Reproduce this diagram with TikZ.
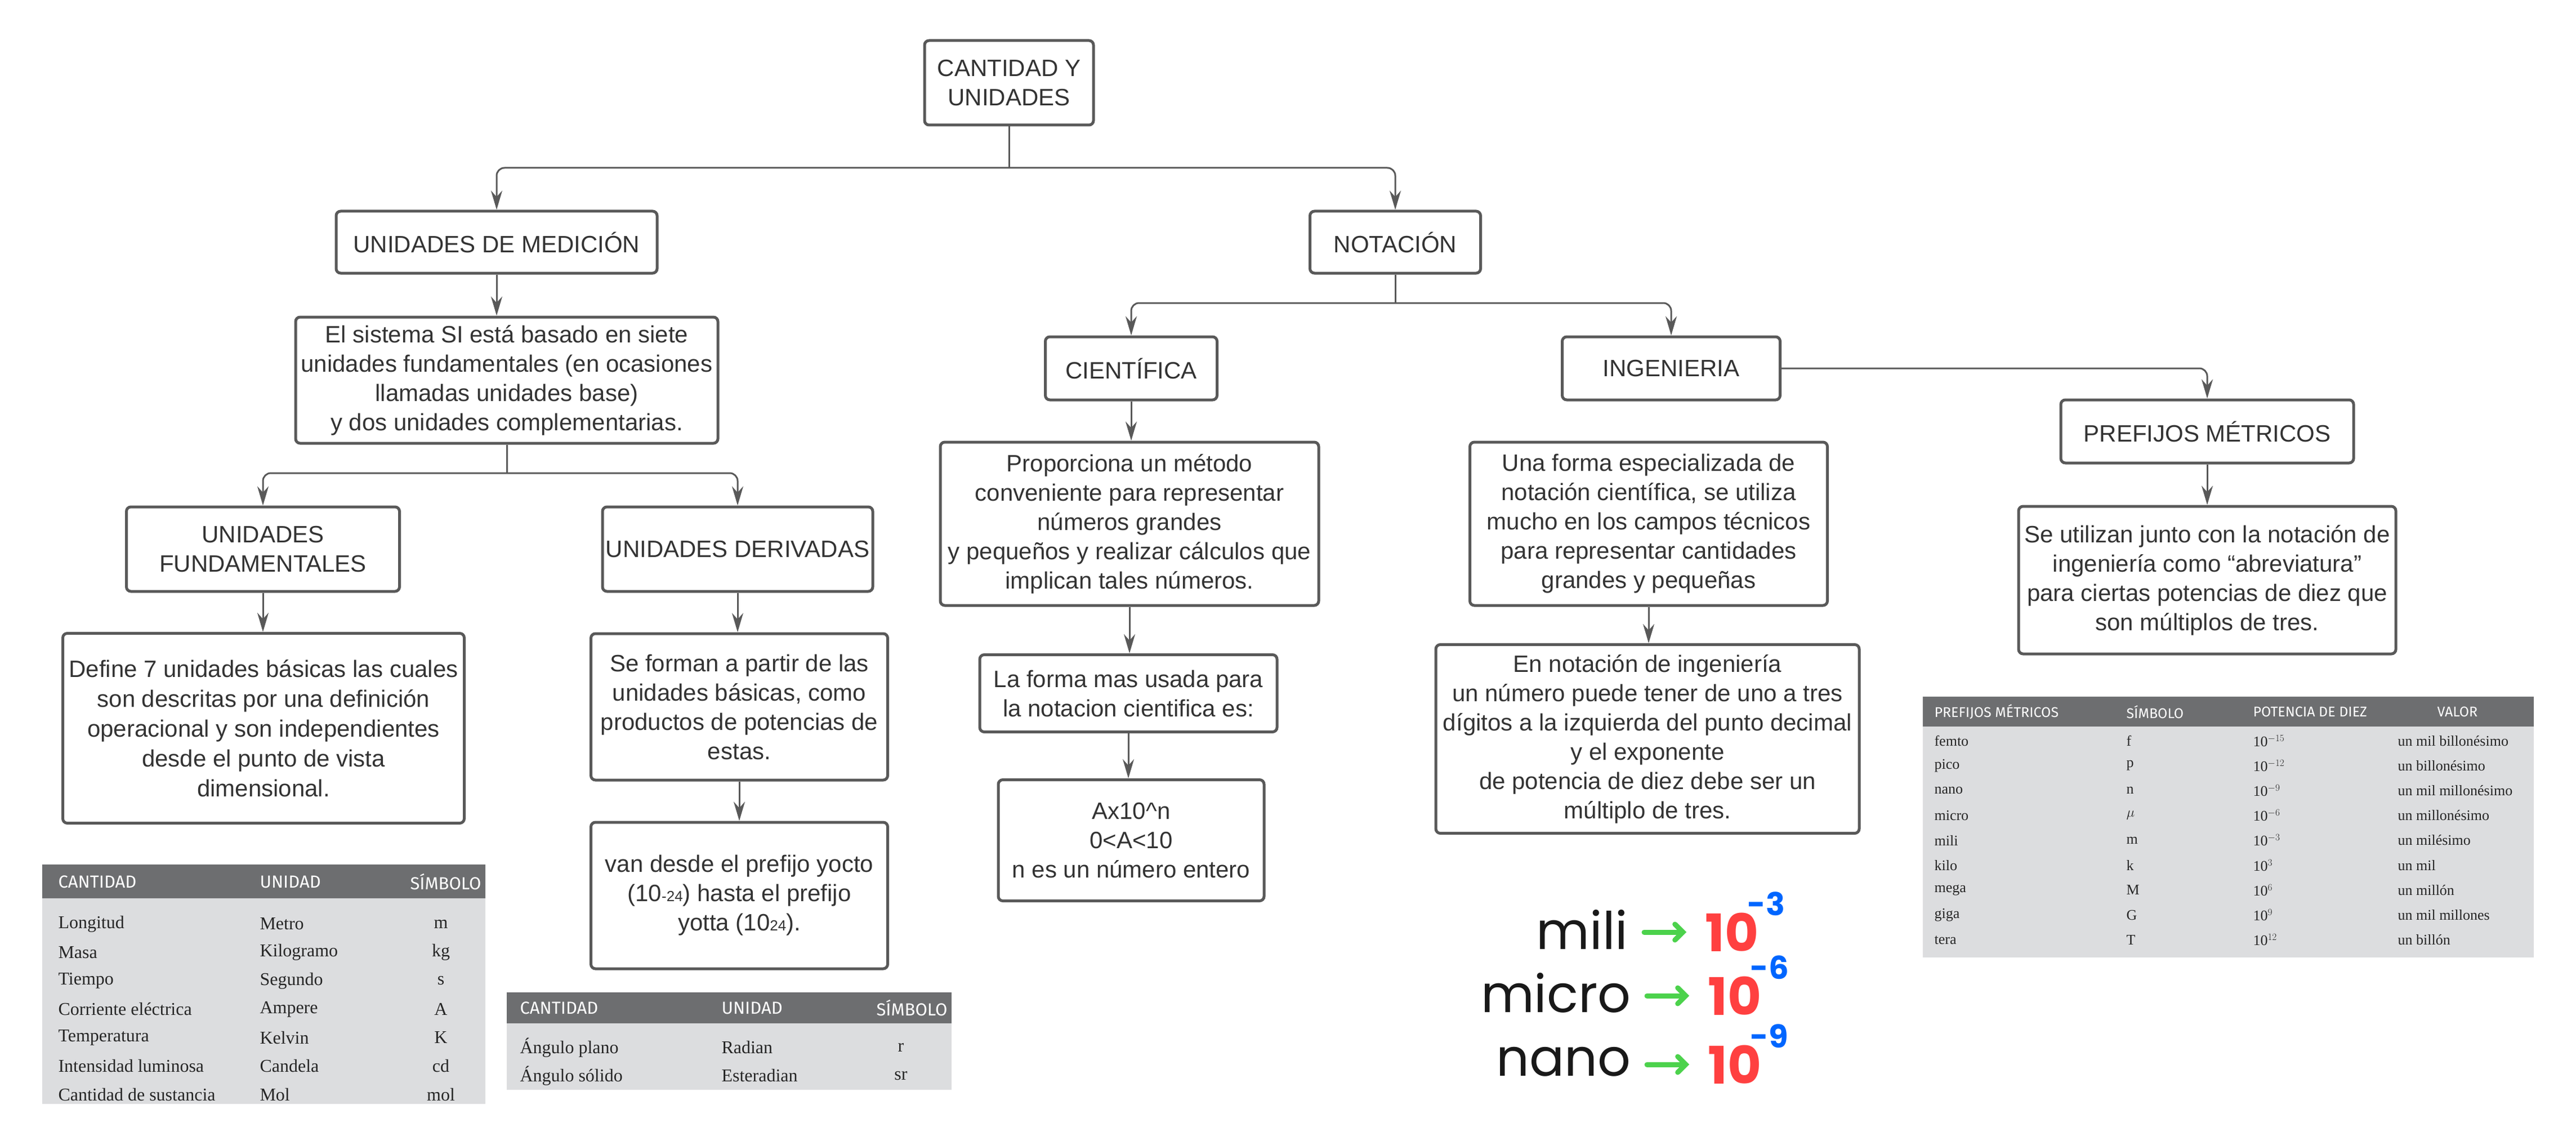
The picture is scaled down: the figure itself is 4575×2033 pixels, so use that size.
\documentclass[tikz,border=0pt]{standalone}
\usepackage{fontspec}
\setmainfont{Liberation Sans}
\newfontfamily\serifT{Liberation Serif}
\newfontfamily\headT{Fira Sans}
\newfontfamily\handT{Poppins}
\usetikzlibrary{arrows.meta}
\definecolor{bx}{HTML}{595959}
\definecolor{hd}{HTML}{6D6E70}
\definecolor{bd}{HTML}{DCDDDF}
\definecolor{tx}{HTML}{333333}
\tikzset{
 box/.style={draw=bx,line width=5pt,rounded corners=8pt,align=center,text=tx,font=\fontsize{42}{52}\selectfont,inner sep=0pt},
 conn/.style={draw=bx,line width=3pt,rounded corners=14pt,-{Stealth[length=34pt,width=20pt]}},
 line/.style={draw=bx,line width=3pt,rounded corners=14pt},
 th/.style={text=white,font=\headT\fontsize{31}{34}\selectfont,anchor=west},
 td/.style={text=black!85,font=\serifT\fontsize{32}{34}\selectfont,anchor=west},
 ph/.style={text=white,font=\headT\fontsize{25}{28}\selectfont,anchor=west},
 pd/.style={text=black!85,font=\serifT\fontsize{26}{30}\selectfont,anchor=west},
 hw/.style={font=\handT\fontsize{92}{100}\selectfont,text=black!90},
}
\begin{document}
\begin{tikzpicture}[x=1pt,y=-1pt]
\useasboundingbox[fill=white] (0,0) rectangle (4575,2033);
\node[box,minimum width=300pt,minimum height=150pt] (root) at (1792,147) {CANTIDAD Y\\UNIDADES};
\node[box,minimum width=570pt,minimum height=110pt] (um) at (882,430) {UNIDADES DE MEDICIÓN};
\node[box,minimum width=303pt,minimum height=110pt] (not) at (2478,430) {NOTACIÓN};
\node[box,minimum width=750pt,minimum height=224pt] (si) at (900,675) {El sistema SI está basado en siete\\unidades fundamentales (en ocasiones\\llamadas unidades base)\\y dos unidades complementarias.};
\node[box,minimum width=305pt,minimum height=112pt] (cie) at (2009,654) {CIENTÍFICA};
\node[box,minimum width=387pt,minimum height=112pt] (ing) at (2968,654) {INGENIERIA};
\node[box,minimum width=520pt,minimum height=112pt] (pre) at (3920,766) {PREFIJOS MÉTRICOS};
\node[box,minimum width=485pt,minimum height=150pt] (uf) at (467,975) {UNIDADES\\FUNDAMENTALES};
\node[box,minimum width=480pt,minimum height=150pt] (ud) at (1310,975) {UNIDADES DERIVADAS};
\node[box,minimum width=672pt,minimum height=290pt] (prop) at (2006,930) {Proporciona un método\\conveniente para representar\\números grandes\\y pequeños y realizar cálculos que\\implican tales números.};
\node[box,minimum width=635pt,minimum height=290pt] (una) at (2928,930) {Una forma especializada de\\notación científica, se utiliza\\mucho en los campos técnicos\\para representar cantidades\\grandes y pequeñas};
\node[box,minimum width=670pt,minimum height=262pt] (seu) at (3920,1030) {Se utilizan junto con la notación de\\ingeniería como “abreviatura”\\para ciertas potencias de diez que\\son múltiplos de tres.};
\node[box,minimum width=713pt,minimum height=337pt,font=\fontsize{42}{53}\selectfont] (def) at (468,1293) {Define 7 unidades básicas las cuales\\son descritas por una definición\\operacional y son independientes\\desde el punto de vista\\dimensional.};
\node[box,minimum width=527pt,minimum height=260pt] (sef) at (1313,1255) {Se forman a partir de las\\unidades básicas, como\\productos de potencias de\\estas.};
\node[box,minimum width=528pt,minimum height=137pt] (laf) at (2004,1231) {La forma mas usada para\\la notacion cientifica es:};
\node[box,minimum width=752pt,minimum height=335pt] (enn) at (2926,1312) {En notación de ingeniería\\un número puede tener de uno a tres\\dígitos a la izquierda del punto decimal\\y el exponente\\de potencia de diez debe ser un\\múltiplo de tres.};
\node[box,minimum width=527pt,minimum height=260pt] (van) at (1313,1590) {van desde el prefijo yocto\\(10{\fontsize{26}{26}\selectfont-24}) hasta el prefijo\\yotta (10{\fontsize{26}{26}\selectfont 24}).};
\node[box,minimum width=472pt,minimum height=215pt] (ax) at (2009,1492) {Ax10\^{}n\\0<A<10\\n es un número entero};
% connectors
\draw[line] (root.south) -- (1792,298);
\draw[conn] (1792,298) -| (um.north);
\draw[conn] (1792,298) -| (not.north);
\draw[line] (not.south) -- (2478,538);
\draw[conn] (2478,538) -| (cie.north);
\draw[conn] (2478,538) -| (ing.north);
\draw[conn] (ing.east) -| (pre.north);
\draw[conn] (um.south) -- (si.north -| um.south);
\draw[line] (si.south) -- (900,840);
\draw[conn] (900,840) -| (uf.north);
\draw[conn] (900,840) -| (ud.north);
\draw[conn] (uf.south) -- (def.north -| uf.south);
\draw[conn] (ud.south) -- (sef.north -| ud.south);
\draw[conn] (sef.south) -- (van.north);
\draw[conn] (cie.south) -- (prop.north -| cie.south);
\draw[conn] (prop.south) -- (laf.north -| prop.south);
\draw[conn] (laf.south) -- (ax.north -| laf.south);
\draw[conn] (una.south) -- (enn.north -| una.south);
\draw[conn] (pre.south) -- (seu.north);
% table 1
\fill[bd] (75,1535) rectangle (862,1960);
\fill[hd] (75,1535) rectangle (862,1595);
\node[th] (t1a) at (100,1566) {CANTIDAD};
\node[th] (t1b) at (458,1566) {UNIDAD};
\node[th,anchor=east] (t1c) at (858,1566) {SÍMBOLO};
\foreach \a/\b/\c [count=\i] in {Longitud/Metro/m,Masa/Kilogramo/kg,Tiempo/Segundo/s,Corriente eléctrica/Ampere/A,Temperatura/Kelvin/K,Intensidad luminosa/Candela/cd,Cantidad de sustancia/Mol/mol}{
 \node[td] at (100,1590+50.5*\i) {\a};
 \node[td] at (458,1590+50.5*\i) {\b};
 \node[td,anchor=center] at (783,1590+50.5*\i) {\c};
}
% table 2
\fill[bd] (900,1762) rectangle (1690,1935);
\fill[hd] (900,1762) rectangle (1690,1817);
\node[th] (t2a) at (920,1790) {CANTIDAD};
\node[th] (t2b) at (1278,1790) {UNIDAD};
\node[th,anchor=east] (t2c) at (1686,1790) {SÍMBOLO};
\node[td] at (920,1860) {Ángulo plano};
\node[td] at (1278,1860) {Radian};
\node[td,anchor=center] at (1600,1860) {r};
\node[td] at (920,1910) {Ángulo sólido};
\node[td] at (1278,1910) {Esteradian};
\node[td,anchor=center] at (1600,1910) {sr};
% prefix table
\fill[bd] (3415,1237) rectangle (4500,1700);
\fill[hd] (3415,1237) rectangle (4500,1290);
\node[ph] (p1) at (3432,1264) {PREFIJOS MÉTRICOS};
\node[ph] (p2) at (3773,1264) {SÍMBOLO};
\node[ph] (p3) at (3998,1264) {POTENCIA DE DIEZ};
\node[ph] (p4) at (4325,1264) {VALOR};
\foreach \a/\b/\c/\d [count=\i] in {femto/f/{-15}/un mil billonésimo,pico/p/{-12}/un billonésimo,nano/n/{-9}/un mil millonésimo,micro/$\mu$/{-6}/un millonésimo,mili/m/{-3}/un milésimo,kilo/k/{3}/un mil,mega/M/{6}/un millón,giga/G/{9}/un mil millones,tera/T/{12}/un billón}{
 \node[pd] at (3432,1271+44.2*\i) {\a};
 \node[pd] at (3773,1271+44.2*\i) {\b};
 \node[pd] at (3998,1271+44.2*\i) {10$^{\c}$};
 \node[pd] at (4255,1271+44.2*\i) {\d};
}
% mili micro nano
\foreach \w/\e/\y/\r in {mili/-3/1650/2895,micro/-6/1763/2900,nano/-9/1885/2900}{
 \node[hw,anchor=east] at (\r,\y) {\w};
 \draw[draw=green!75!black!70!white,line width=9pt,line cap=round,-{Straight Barb[length=14pt,width=28pt,line cap=round]}] (\r+25,\y+5) -- (\r+100,\y+5);
 \node[hw,text=red!75!white,anchor=west,font=\handT\bfseries\fontsize{92}{100}\selectfont] at (\r+130,\y+5) {10};
 \node[text=blue!60!cyan,anchor=west,font=\handT\bfseries\fontsize{56}{60}\selectfont] at (\r+205,\y-45) {\e};
}
\end{tikzpicture}
\end{document}
